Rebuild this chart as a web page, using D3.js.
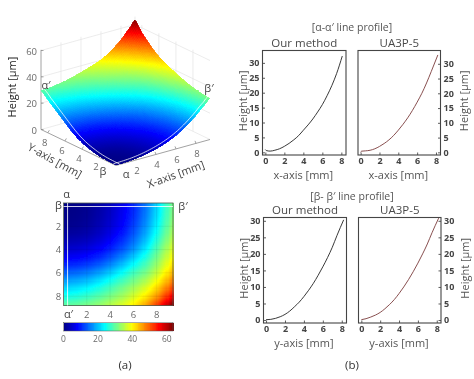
<!DOCTYPE html>
<html>
<head>
<meta charset="utf-8">
<script src="https://cdn.jsdelivr.net/npm/d3@7"></script>
<style>
  html, body { margin: 0; padding: 0; background: #fff; }
  svg { display: block; }
  text { font-family: "Open Sans", "Noto Sans", sans-serif; fill: #4a4a4a; }
</style>
</head>
<body>
<svg id="chart" width="474" height="379"></svg>
<script>
// surface heights [um]: one row per y, one column per x
const gridX = [0, 1, 2, 3, 4, 5, 6, 7, 8, 9, 9.4];
const gridY = [0, 1, 2, 3, 4, 5, 6, 7, 8, 8.8];
const heights = [
  [0.4, 0.6, 1.2, 2.4, 4.2, 6.7, 10.2, 15, 21.2, 28.2, 31.2],
  [0.5, 0.7, 1.3, 2.6, 4.5, 7.1, 10.7, 15.6, 21.8, 28.8, 31.8],
  [1.1, 1.3, 2, 3.4, 5.4, 8, 12, 17, 23.3, 30.2, 33.3],
  [2.6, 2.9, 3.6, 5, 7.2, 10.2, 14.2, 19.3, 25.7, 32.3, 35.3],
  [5, 5.3, 6.2, 7.7, 10.1, 13.2, 17.3, 22.6, 28.9, 35, 37.9],
  [8.8, 9.2, 10.2, 12, 14.7, 18.2, 22.4, 27, 32.3, 38, 40.8],
  [14, 14.5, 15.7, 17.8, 20.6, 24, 27.8, 31.3, 36, 41.6, 44.4],
  [19.5, 20.2, 21.5, 23.7, 26.5, 29.5, 32.5, 36, 40.8, 46.6, 49.8],
  [25, 25.7, 27.1, 29, 31.3, 33.8, 37, 40.8, 46, 53, 56.3],
  [29.5, 30, 31.2, 32.8, 35, 37.4, 40.4, 45, 51.5, 59.5, 63.5]
];
const jetStops = ['#00007f', '#0000ff', '#007fff', '#00ffff', '#7fff7f', '#ffff00', '#ff7f00', '#ff0000', '#7f0000'];

// line profiles [mm, um]
const alphaOurs = [[0, 0.9], [0.1, 0.6], [0.5, 0.4], [1, 0.7], [1.5, 1.2], [2, 2], [2.5, 3], [3, 4.2], [3.5, 5.6], [4, 7.4], [4.5, 9.2], [5, 11.2], [5.5, 13.5], [6, 16], [6.5, 19], [7, 22.4], [7.5, 26.4], [8.1, 32.3]];
const alphaUa3p = [[0, 0], [0.1, 0.4], [0.5, 0.5], [1, 0.7], [1.5, 1.2], [2, 2], [2.5, 3], [3, 4.2], [3.5, 5.7], [4, 7.5], [4.5, 9.5], [5, 11.7], [5.5, 14.2], [6, 17], [6.5, 20], [7, 23.5], [7.5, 27.4], [8.2, 33]];
const betaOurs = [[0, 0.1], [0.5, 0.2], [1, 0.5], [1.5, 1], [2, 1.7], [2.5, 2.7], [3, 4], [3.5, 5.4], [4, 7.1], [4.5, 9], [5, 11.1], [5.5, 13.5], [6, 16.1], [6.5, 18.9], [7, 22], [7.5, 25.6], [8.2, 30.3]];
const betaUa3p = [[0, 0.1], [0.5, 0.4], [1, 0.9], [1.5, 1.5], [2, 2.3], [2.5, 3.4], [3, 4.7], [3.5, 6.2], [4, 8], [4.5, 10], [5, 12.2], [5.5, 14.6], [6, 17.2], [6.5, 20], [7, 23], [7.5, 26.4], [8.2, 30.8]];

const surfaceTicks = [2, 4, 6, 8];
const heightTicks = [0, 20, 40, 60];
const barTicks = [0, 20, 40, 60];
const profileXTicks = [0, 2, 4, 6, 8];
const profileYTicks = [0, 5, 10, 15, 20, 25, 30];

const svg = d3.select('#chart');

// the source figure is a soft jpeg, so everything gets a very light blur
svg.append('defs').append('filter')
  .attr('id', 'soft')
  .attr('x', 0).attr('y', 0).attr('width', 1).attr('height', 1)
  .append('feGaussianBlur').attr('stdDeviation', 0.4);
const root = svg.append('g').attr('filter', 'url(#soft)');
root.append('rect').attr('width', 474).attr('height', 379).attr('fill', '#fff');

const jet = d3.scaleLinear()
  .domain(jetStops.map((c, i) => 63.6 * i / (jetStops.length - 1)))
  .range(jetStops)
  .clamp(true);

// cubic lookup in the height table, only to paint the surface smoothly
const colIndex = d3.scaleLinear().domain(gridX).range(d3.range(gridX.length));
const rowIndex = d3.scaleLinear().domain(gridY).range(d3.range(gridY.length));

function cubic(p0, p1, p2, p3, t) {
  return p1 + 0.5 * t * (p2 - p0 + t * (2 * p0 - 5 * p1 + 4 * p2 - p3 + t * (3 * (p1 - p2) + p3 - p0)));
}

function heightAt(x, y) {
  const fx = colIndex(x), fy = rowIndex(y);
  const i = Math.min(Math.floor(fx), gridX.length - 2);
  const j = Math.min(Math.floor(fy), gridY.length - 2);
  const at = (r, c) => heights[Math.max(0, Math.min(heights.length - 1, r))][Math.max(0, Math.min(gridX.length - 1, c))];
  const rowVal = r => cubic(at(r, i - 1), at(r, i), at(r, i + 1), at(r, i + 2), fx - i);
  return cubic(rowVal(j - 1), rowVal(j), rowVal(j + 1), rowVal(j + 2), fy - j);
}

function drawText(sel, x, y, str, size, opts = {}) {
  return sel.append('text')
    .attr('x', x).attr('y', y)
    .attr('text-anchor', opts.anchor || 'middle')
    .attr('transform', opts.rotate ? `rotate(${opts.rotate} ${x} ${y})` : null)
    .attr('font-weight', opts.weight || null)
    .style('fill', opts.fill || null)
    .style('font-size', size + 'px')
    .text(str);
}

/* ---------- 3D surface ---------- */
function drawSurface() {
  const g = root.append('g');
  const xMax = d3.max(gridX), yMax = d3.max(gridY);

  // oblique projection: every axis is a plain linear scale on screen
  const xToSx = d3.scaleLinear().domain([0, xMax]).range([0, 94]);
  const xToSy = d3.scaleLinear().domain([0, xMax]).range([0, -26]);
  const yToSx = d3.scaleLinear().domain([0, yMax]).range([0, -75]);
  const yToSy = d3.scaleLinear().domain([0, yMax]).range([0, -36]);
  const zToSy = d3.scaleLinear().domain([0, 60]).range([0, -79]);
  const project = (x, y, z) => [116 + xToSx(x) + yToSx(y), 165.5 + xToSy(x) + yToSy(y) + zToSy(z)];

  // back walls
  const wall = g.append('g').attr('stroke', '#e4e4e4').attr('stroke-width', 0.7).attr('fill', 'none');
  const wallLine = pts => wall.append('path').attr('d', d3.line()(pts));
  heightTicks.forEach(z => {
    wallLine([project(0, yMax, z), project(xMax, yMax, z), project(xMax, 0, z)]);
  });
  surfaceTicks.forEach(t => {
    wallLine([project(t, yMax, 0), project(t, yMax, 62)]);
    wallLine([project(xMax, t, 0), project(xMax, t, 62)]);
  });
  wallLine([project(xMax, yMax, 0), project(xMax, yMax, 66)]);

  // floor axes
  const axis = g.append('g').attr('stroke', '#8a8a8a').attr('stroke-width', 0.8).attr('fill', 'none');
  axis.append('path').attr('d', d3.line()([project(0, yMax, 0), project(0, 0, 0), project(xMax, 0, 0)]));
  axis.append('path').attr('d', d3.line()([project(0, yMax, 60.5), project(0, yMax, 0)]));
  heightTicks.forEach(z => {
    const p = project(0, yMax, z);
    axis.append('path').attr('d', d3.line()([p, [p[0] + 2.5, p[1]]]));
    drawText(g, p[0] - 4, p[1] + 4, z, 9.5, { anchor: 'end', fill: '#6a6a6a' });
  });
  surfaceTicks.forEach(t => {
    const px = project(t, 0, 0);
    axis.append('path').attr('d', d3.line()([px, [px[0] - 1, px[1] - 2.5]]));
    drawText(g, px[0] + 1, px[1] + 14, t, 9.5, { fill: '#6a6a6a' });
    const py = project(0, t, 0);
    axis.append('path').attr('d', d3.line()([py, [py[0] + 1.5, py[1] - 2.5]]));
    drawText(g, py[0] - 3, py[1] + 13, t, 9.5, { fill: '#6a6a6a' });
  });

  // surface facets, painted back to front
  const steps = 8;
  const facets = [];
  const nx = (gridX.length - 1) * steps, ny = (gridY.length - 1) * steps;
  for (let j = ny - 1; j >= 0; j--) {
    for (let i = nx - 1; i >= 0; i--) {
      const x0 = xMax * i / nx, x1 = xMax * (i + 1) / nx;
      const y0 = yMax * j / ny, y1 = yMax * (j + 1) / ny;
      const corners = [[x0, y0], [x1, y0], [x1, y1], [x0, y1]];
      const zs = corners.map(c => heightAt(c[0], c[1]));
      facets.push({ pts: corners.map((c, k) => project(c[0], c[1], zs[k])), z: d3.mean(zs) });
    }
  }
  g.append('g').selectAll('polygon')
    .data(facets)
    .join('polygon')
    .attr('points', d => d.pts.map(p => p.join(',')).join(' '))
    .attr('fill', d => jet(d.z))
    .attr('stroke', d => jet(d.z))
    .attr('stroke-width', 0.8)
    .attr('shape-rendering', 'crispEdges');

  // profile tracks
  const track = g.append('g').attr('fill', 'none').attr('stroke', '#ffffff').attr('stroke-opacity', 0.75).attr('stroke-width', 1);
  track.append('path').attr('d', d3.line()(d3.range(0, yMax + 0.01, 0.2).map(y => project(0.35, y, heightAt(0.35, y)))));
  track.append('path').attr('d', d3.line()(d3.range(0, xMax + 0.01, 0.2).map(x => project(x, 0.3, heightAt(x, 0.3)))));

  // labels
  drawText(g, 16, 87, 'Height [µm]', 11, { rotate: -90, fill: '#222' });
  drawText(g, 53, 164, 'Y-axis [mm]', 11, { rotate: 29, fill: '#444' });
  drawText(g, 177, 178, 'X-axis [mm]', 11, { rotate: -20, fill: '#444' });
  drawText(g, 46, 89, 'α′', 11, { fill: '#444' });
  drawText(g, 209, 92, 'β′', 11, { fill: '#444' });
  drawText(g, 103, 175, 'β', 11, { fill: '#444' });
  drawText(g, 126, 178, 'α', 11, { fill: '#444' });
}

/* ---------- top-view map and colour bar ---------- */
function drawMap() {
  const g = root.append('g');
  const xMax = d3.max(gridX), yMax = d3.max(gridY);
  const x = d3.scaleLinear().domain([0, xMax]).range([63.5, 173]);
  const y = d3.scaleLinear().domain([0, yMax]).range([203, 305.5]);

  const steps = 10;
  const cells = [];
  const nx = (gridX.length - 1) * steps, ny = (gridY.length - 1) * steps;
  for (let j = 0; j < ny; j++) {
    for (let i = 0; i < nx; i++) {
      const x0 = xMax * i / nx, y0 = yMax * j / ny;
      cells.push({ x0, y0, x1: xMax * (i + 1) / nx, y1: yMax * (j + 1) / ny });
    }
  }
  g.append('g').attr('shape-rendering', 'crispEdges').selectAll('rect')
    .data(cells)
    .join('rect')
    .attr('x', d => x(d.x0))
    .attr('y', d => y(d.y0))
    .attr('width', d => x(d.x1) - x(d.x0) + 0.6)
    .attr('height', d => y(d.y1) - y(d.y0) + 0.6)
    .attr('fill', d => jet(heightAt((d.x0 + d.x1) / 2, (d.y0 + d.y1) / 2)));

  // faint grid and frame
  const grid = g.append('g').attr('stroke', '#000').attr('stroke-opacity', 0.1).attr('stroke-width', 0.6);
  surfaceTicks.forEach(t => {
    grid.append('line').attr('x1', x(t)).attr('x2', x(t)).attr('y1', y(0)).attr('y2', y(yMax));
    grid.append('line').attr('y1', y(t)).attr('y2', y(t)).attr('x1', x(0)).attr('x2', x(xMax));
  });
  g.append('rect')
    .attr('x', x(0)).attr('y', y(0))
    .attr('width', x(xMax) - x(0)).attr('height', y(yMax) - y(0))
    .attr('fill', 'none').attr('stroke', '#4f5a4f').attr('stroke-width', 0.8);

  const track = g.append('g').attr('stroke', '#ffffff').attr('stroke-opacity', 0.8).attr('stroke-width', 1);
  track.append('line').attr('x1', x(0.35)).attr('x2', x(0.35)).attr('y1', y(0)).attr('y2', y(yMax));
  track.append('line').attr('y1', y(0.3)).attr('y2', y(0.3)).attr('x1', x(0)).attr('x2', x(xMax));

  surfaceTicks.forEach(t => {
    drawText(g, x(t), 318, t, 9.5, { fill: '#6a6a6a' });
    drawText(g, 58.5, y(t) + 3.5, t, 9.5, { fill: '#6a6a6a' });
  });
  drawText(g, 68.5, 318, 'α′', 11, { fill: '#444' });
  drawText(g, 66.5, 198, 'α', 11, { fill: '#444' });
  drawText(g, 58.5, 209, 'β', 11, { fill: '#444' });
  drawText(g, 183, 210, 'β′', 11, { fill: '#444' });

  // colour bar
  const bar = d3.scaleLinear().domain([0, 63.6]).range([63.5, 173]);
  g.append('g').attr('shape-rendering', 'crispEdges').selectAll('rect')
    .data(d3.range(0, 63.6, 0.5))
    .join('rect')
    .attr('x', d => bar(d))
    .attr('y', 322.5)
    .attr('width', bar(0.5) - bar(0) + 0.4)
    .attr('height', 8.5)
    .attr('fill', d => jet(d + 0.25));
  g.append('rect')
    .attr('x', 63.5).attr('y', 322.5).attr('width', 109.5).attr('height', 8.5)
    .attr('fill', 'none').attr('stroke', '#555').attr('stroke-width', 0.5);
  barTicks.forEach(t => drawText(g, bar(t), 341.5, t, 8.5, { fill: '#6a6a6a' }));
}

/* ---------- line profile panels ---------- */
function drawProfile(cfg) {
  const g = root.append('g');
  const x = d3.scaleLinear().domain(cfg.xDomain).range([cfg.left, cfg.right]);
  const y = d3.scaleLinear().domain(cfg.yDomain).range([cfg.bottom, cfg.top]);
  const sideRight = cfg.side === 'right';

  const line = d3.line().x(d => x(d[0])).y(d => y(d[1])).curve(d3.curveMonotoneX);
  g.append('path')
    .attr('d', line(cfg.data))
    .attr('fill', 'none')
    .attr('stroke', cfg.color)
    .attr('stroke-width', 0.9);

  const axisY = (sideRight ? d3.axisRight(y) : d3.axisLeft(y)).tickValues(profileYTicks).tickSize(-2.5).tickPadding(3);
  g.append('g')
    .attr('transform', `translate(${sideRight ? cfg.right : cfg.left},0)`)
    .call(axisY)
    .call(a => a.select('.domain').remove());
  const axisX = d3.axisBottom(x).tickValues(profileXTicks).tickSize(-2.5).tickPadding(3);
  g.append('g')
    .attr('transform', `translate(0,${cfg.bottom})`)
    .call(axisX)
    .call(a => a.select('.domain').remove());
  g.selectAll('.tick line').attr('stroke', '#333').attr('stroke-width', 0.8);
  g.selectAll('.tick text')
    .style('font-size', '9px')
    .style('font-weight', 'bold')
    .style('font-family', '"Open Sans", sans-serif')
    .style('fill', '#444');

  g.append('rect')
    .attr('x', cfg.left).attr('y', cfg.top)
    .attr('width', cfg.right - cfg.left).attr('height', cfg.bottom - cfg.top)
    .attr('fill', 'none').attr('stroke', '#444').attr('stroke-width', 1.1);

  drawText(g, (cfg.left + cfg.right) / 2, cfg.top - 3.5, cfg.title, 11.5, { fill: '#4a4a4a' });
  drawText(g, x(4), cfg.bottom + 24, cfg.xLabel, 11, { fill: '#555' });
  const ly = (cfg.top + cfg.bottom) / 2 - 2;
  const lx = sideRight ? cfg.right + 27.5 : cfg.left - 16;
  drawText(g, lx, ly, 'Height [µm]', 11, { rotate: -90, fill: '#555' });
}

drawSurface();
drawMap();

drawText(root, 125, 369, '(a)', 11.5, { fill: '#333' });
drawText(root, 352, 369, '(b)', 11.5, { fill: '#333' });
drawText(root, 352, 31, '[α-α′ line profile]', 10.5, { fill: '#555' });
drawText(root, 352, 200, '[β- β′ line profile]', 10.5, { fill: '#555' });

const topPanel = { top: 50.5, bottom: 155, xLabel: 'x-axis [mm]' };
const lowPanel = { top: 217.5, bottom: 323, xLabel: 'y-axis [mm]' };
drawProfile({ ...topPanel, left: 262.5, right: 346, xDomain: [-0.3, 8.49], yDomain: [-0.9, 34.15], data: alphaOurs, color: '#222', title: 'Our method', side: 'left' });
drawProfile({ ...topPanel, left: 358, right: 440.5, xDomain: [-0.28, 8.48], yDomain: [-0.9, 34.5], data: alphaUa3p, color: '#7a3b3b', title: 'UA3P-5', side: 'right' });
drawProfile({ ...lowPanel, left: 263.5, right: 346.5, xDomain: [-0.27, 8.5], yDomain: [-0.9, 31], data: betaOurs, color: '#222', title: 'Our method', side: 'left' });
drawProfile({ ...lowPanel, left: 358.5, right: 441, xDomain: [-0.3, 8.45], yDomain: [-0.9, 31], data: betaUa3p, color: '#7a3b3b', title: 'UA3P-5', side: 'right' });
</script>
</body>
</html>
